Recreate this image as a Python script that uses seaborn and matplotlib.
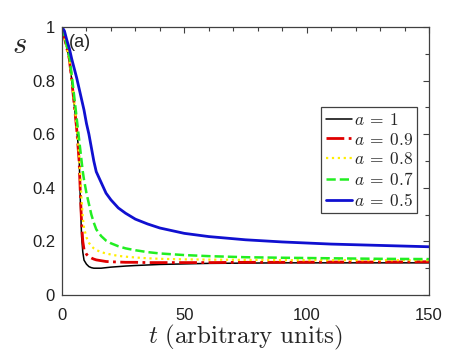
import matplotlib
matplotlib.use("Agg")
import matplotlib.pyplot as plt
import seaborn as sns
import pandas as pd
from matplotlib.ticker import MultipleLocator

t = [0, 1, 2, 3, 4, 5, 6, 7, 7.5, 8, 8.5, 9, 10, 11, 12, 13, 14, 16, 18, 20,
     23, 26, 30, 35, 40, 50, 60, 75, 90, 110, 130, 150]

s_a1 = [1, 0.96, 0.92, 0.88, 0.8, 0.71, 0.62, 0.52, 0.35, 0.22, 0.16, 0.13, 0.115,
        0.106, 0.102, 0.1, 0.1, 0.1, 0.102, 0.104, 0.106, 0.108, 0.11, 0.112,
        0.114, 0.116, 0.118, 0.119, 0.12, 0.12, 0.12, 0.12]
s_a09 = [1, 0.96, 0.92, 0.88, 0.8, 0.71, 0.62, 0.5, 0.38, 0.27, 0.2, 0.17, 0.152,
         0.143, 0.138, 0.134, 0.131, 0.128, 0.125, 0.124, 0.123, 0.122, 0.122,
         0.121, 0.121, 0.121, 0.121, 0.122, 0.122, 0.123, 0.123, 0.124]
s_a08 = [1, 0.96, 0.92, 0.88, 0.8, 0.72, 0.63, 0.52, 0.44, 0.36, 0.29, 0.25, 0.215,
         0.195, 0.182, 0.174, 0.168, 0.16, 0.155, 0.151, 0.146, 0.143, 0.14,
         0.137, 0.135, 0.133, 0.132, 0.131, 0.13, 0.13, 0.13, 0.13]
s_a07 = [1, 0.965, 0.93, 0.89, 0.82, 0.74, 0.66, 0.58, 0.54, 0.5, 0.46, 0.43, 0.38,
         0.34, 0.3, 0.27, 0.245, 0.22, 0.203, 0.193, 0.182, 0.174, 0.167, 0.16,
         0.155, 0.149, 0.145, 0.141, 0.139, 0.137, 0.135, 0.134]
s_a05 = [1, 0.985, 0.95, 0.92, 0.88, 0.845, 0.81, 0.77, 0.75, 0.73, 0.71, 0.69, 0.64,
         0.6, 0.55, 0.5, 0.46, 0.42, 0.38, 0.355, 0.325, 0.305, 0.283, 0.265,
         0.25, 0.23, 0.218, 0.206, 0.198, 0.19, 0.185, 0.18]

labels = [r"$a\:=\:1$", r"$a\:=\:0.9$", r"$a\:=\:0.8$", r"$a\:=\:0.7$", r"$a\:=\:0.5$"]
series = [s_a1, s_a09, s_a08, s_a07, s_a05]
colors = ["#000000", "#e00000", "#ffee00", "#22ee22", "#1010d0"]
styles = ["-", "-.", ":", "--", "-"]
widths = [1.1, 2.0, 1.6, 1.8, 2.0]

xticks = [0, 50, 100, 150]
xticklabels = ["0", "50", "100", "150"]
yticks = [0, 0.2, 0.4, 0.6, 0.8, 1]
yticklabels = ["0", "0.2", "0.4", "0.6", "0.8", "1"]

sns.set_style("white")
plt.rcParams["font.family"] = ["Liberation Sans", "DejaVu Sans"]
plt.rcParams["mathtext.fontset"] = "cm"

fig = plt.figure(figsize=(4.74, 3.55), dpi=100)
ax = fig.add_axes([0.1308, 0.169, 0.7742, 0.755])

for lab, vals, c, ls, lw in zip(labels, series, colors, styles, widths):
    df = pd.DataFrame({"t": t, "s": vals})
    sns.lineplot(data=df, x="t", y="s", ax=ax, color=c, linestyle=ls,
                 linewidth=lw, label=lab)

ax.set_xlim(0, 150)
ax.set_ylim(0, 1)
ax.set_xticks(xticks)
ax.set_xticklabels(xticklabels)
ax.set_yticks(yticks)
ax.set_yticklabels(yticklabels)
ax.xaxis.set_minor_locator(MultipleLocator(10))
ax.yaxis.set_minor_locator(MultipleLocator(0.1))
ax.tick_params(which="both", direction="in", top=True, right=True,
               color="#404040", labelsize=12, labelcolor="#202020")
ax.tick_params(which="major", length=4, width=0.8)
ax.tick_params(which="minor", length=3, width=0.8)
ax.tick_params(axis="x", which="major", pad=9)
ax.tick_params(axis="y", which="major", pad=5)
for sp in ax.spines.values():
    sp.set_color("#404040")
    sp.set_linewidth(0.9)

ax.set_xlabel(r"$t\ \mathrm{(arbitrary\ units)}$", fontsize=18, labelpad=0)
ax.set_ylabel("")
fig.text(0.040, 0.872, r"$s$", fontsize=22, ha="center", va="center")
ax.text(0.02, 0.975, "(a)", transform=ax.transAxes, fontsize=13,
        ha="left", va="top")

leg = ax.legend(loc="upper right", bbox_to_anchor=(0.968, 0.70), fontsize=12.5,
                handlelength=1.5, handletextpad=0.1, borderpad=0.25,
                labelspacing=0.22, borderaxespad=0, fancybox=False,
                framealpha=1, edgecolor="#404040")
leg.get_frame().set_linewidth(0.9)

fig.savefig("out.png", dpi=100)
